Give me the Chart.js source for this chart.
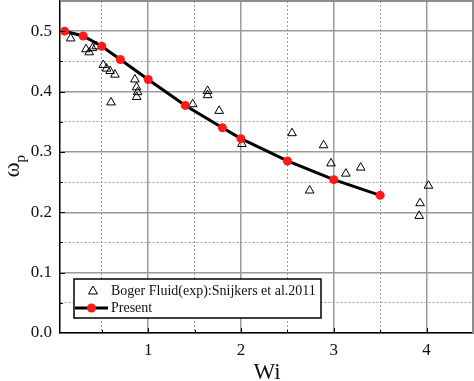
<!DOCTYPE html>
<html>
<head>
<meta charset="utf-8">
<script src="https://cdn.jsdelivr.net/npm/chart.js@4/dist/chart.umd.min.js"></script>
<style>
  html, body { margin: 0; padding: 0; background: #fff; }
  #wrap { width: 474px; height: 381px; position: relative; }
</style>
</head>
<body>
<div id="wrap"><canvas id="chart"></canvas></div>
<script>
// experimental data (triangles)
const expWi = [0.165, 0.33, 0.365, 0.40, 0.44, 0.516, 0.552, 0.59, 0.642, 0.60,
               0.857, 0.875, 0.886, 0.876, 1.48, 1.64, 1.64, 1.765, 2.01,
               2.55, 2.89, 2.97, 3.13, 3.29, 2.74, 4.02, 3.93, 3.92];
const expOmega = [0.488, 0.470, 0.465, 0.472, 0.475, 0.444, 0.438, 0.434, 0.428, 0.382,
                  0.420, 0.407, 0.399, 0.391, 0.379, 0.401, 0.394, 0.368, 0.313,
                  0.331, 0.311, 0.281, 0.264, 0.274, 0.236, 0.244, 0.215, 0.194];

// present simulation (line + red dots)
const presentWi = [0.1, 0.3, 0.5, 0.7, 1.0, 1.4, 1.8, 2.0, 2.5, 3.0, 3.5];
const presentOmega = [0.500, 0.492, 0.475, 0.453, 0.420, 0.377, 0.340, 0.322, 0.285, 0.254, 0.228];

const xTicks = [0.5, 1, 1.5, 2, 2.5, 3, 3.5, 4];
const xLabels = ['1', '2', '3', '4'];
const seriesNames = ['Boger Fluid(exp):Snijkers et al.2011', 'Present'];

const serif = '"Liberation Serif", "Times New Roman", serif';

const toPoints = (xs, ys) => xs.map((x, i) => ({ x: x, y: ys[i] }));
const isMajorX = v => Math.abs(v - Math.round(v)) < 1e-6;
const isMajorY = v => Math.round(v * 100) % 10 === 0;

// frame, inward ticks, axis titles and the boxed legend
const decor = {
  id: 'decor',
  beforeDatasetsDraw(chart) {
    const { ctx, chartArea: a } = chart;
    ctx.save();
    ctx.strokeStyle = '#8c8c8c';
    ctx.lineWidth = 2;
    ctx.beginPath();
    ctx.moveTo(a.left, a.top);
    ctx.lineTo(a.right, a.top);
    ctx.lineTo(a.right, a.bottom);
    ctx.stroke();
    ctx.restore();
  },
  afterDraw(chart) {
    const { ctx, chartArea: a, scales } = chart;
    ctx.save();
    // inward ticks
    ctx.strokeStyle = '#000';
    ctx.lineWidth = 1;
    ctx.beginPath();
    xTicks.forEach(v => {
      const px = Math.round(scales.x.getPixelForValue(v)) + 0.5;
      const len = isMajorX(v) ? 5 : 3;
      ctx.moveTo(px, a.bottom);
      ctx.lineTo(px, a.bottom - len);
    });
    for (let i = 1; i <= 10; i++) {
      const v = i * 0.05;
      const py = Math.round(scales.y.getPixelForValue(v)) + 0.5;
      const len = isMajorY(v) ? 5 : 3;
      ctx.moveTo(a.left, py);
      ctx.lineTo(a.left + len, py);
    }
    ctx.stroke();

    // x title
    ctx.fillStyle = '#111';
    ctx.font = '23px ' + serif;
    ctx.textAlign = 'center';
    ctx.textBaseline = 'alphabetic';
    ctx.fillText('Wi', 267, 379);

    // y title with subscript
    ctx.save();
    ctx.translate(19, 166);
    ctx.rotate(-Math.PI / 2);
    ctx.font = '23px ' + serif;
    ctx.textAlign = 'left';
    const w = ctx.measureText('ω').width;
    ctx.fillText('ω', -w / 2 - 4, 0);
    ctx.font = '15px ' + serif;
    ctx.fillText('p', w / 2 - 4, 6);
    ctx.restore();

    // legend
    const lx = 74, ly = 279, lw = 247, lh = 39;
    ctx.fillStyle = '#fff';
    ctx.fillRect(lx, ly, lw, lh);
    ctx.strokeStyle = '#000';
    ctx.lineWidth = 1.5;
    ctx.strokeRect(lx, ly, lw, lh);

    ctx.font = '14px ' + serif;
    ctx.fillStyle = '#111';
    ctx.textAlign = 'left';
    ctx.textBaseline = 'middle';
    // triangle entry
    ctx.lineWidth = 1;
    ctx.beginPath();
    ctx.moveTo(93, 286);
    ctx.lineTo(97.5, 294);
    ctx.lineTo(88.5, 294);
    ctx.closePath();
    ctx.stroke();
    ctx.fillText(seriesNames[0], 111, 291);
    // line entry
    ctx.lineWidth = 3;
    ctx.beginPath();
    ctx.moveTo(75, 308);
    ctx.lineTo(108, 308);
    ctx.stroke();
    ctx.fillStyle = '#ff1a1a';
    ctx.beginPath();
    ctx.arc(91.5, 308, 4.5, 0, Math.PI * 2);
    ctx.fill();
    ctx.fillStyle = '#111';
    ctx.fillText(seriesNames[1], 111, 308);
    ctx.restore();
  }
};

new Chart(document.getElementById('chart'), {
  type: 'scatter',
  data: {
    datasets: [{
      label: seriesNames[0],
      data: toPoints(expWi, expOmega),
      pointStyle: 'triangle',
      pointRadius: 5,
      pointBorderWidth: 1,
      borderColor: '#000',
      backgroundColor: 'rgba(255,255,255,0)',
      showLine: false,
      order: 2
    }, {
      label: seriesNames[1],
      data: toPoints(presentWi, presentOmega),
      showLine: true,
      borderColor: '#000',
      borderWidth: 3,
      pointRadius: 4.5,
      pointBorderWidth: 0,
      pointBackgroundColor: '#ff1a1a',
      order: 1
    }]
  },
  options: {
    responsive: true,
    maintainAspectRatio: false,
    animation: false,
    layout: { autoPadding: false, padding: { top: 1, right: 1, left: 0, bottom: 0 } },
    plugins: {
      legend: { display: false },
      tooltip: { enabled: false }
    },
    scales: {
      x: {
        type: 'linear',
        min: 0.05,
        max: 4.5,
        afterBuildTicks: scale => { scale.ticks = xTicks.map(v => ({ value: v })); },
        afterFit: scale => {
          scale.height = 48;
          scale.paddingLeft = 0;
          scale.paddingRight = 0;
        },
        ticks: {
          padding: 7,
          color: '#111',
          font: { family: serif, size: 17 },
          callback: v => isMajorX(v) ? xLabels[Math.round(v) - 1] : ''
        },
        grid: {
          drawTicks: false,
          color: '#9a9a9a',
          lineWidth: c => (c.tick && isMajorX(c.tick.value)) ? 1.5 : 1
        },
        border: {
          color: '#000',
          width: 1.5,
          dash: c => (c.tick && !isMajorX(c.tick.value)) ? [2, 2] : []
        }
      },
      y: {
        min: 0,
        max: 0.55,
        afterFit: scale => {
          scale.width = 60;
          scale.paddingTop = 0;
          scale.paddingBottom = 0;
        },
        ticks: {
          stepSize: 0.05,
          padding: 8,
          color: '#111',
          font: { family: serif, size: 17 },
          callback: v => isMajorY(v) ? v.toFixed(1) : ''
        },
        grid: {
          drawTicks: false,
          color: c => (c.tick && c.tick.value > 0.54) ? 'rgba(0,0,0,0)' : '#9a9a9a',
          lineWidth: c => (c.tick && isMajorY(c.tick.value)) ? 1.5 : 1
        },
        border: {
          color: '#000',
          width: 1.5,
          dash: c => (c.tick && !isMajorY(c.tick.value)) ? [2, 2] : []
        }
      }
    }
  },
  plugins: [decor]
});
</script>
</body>
</html>
